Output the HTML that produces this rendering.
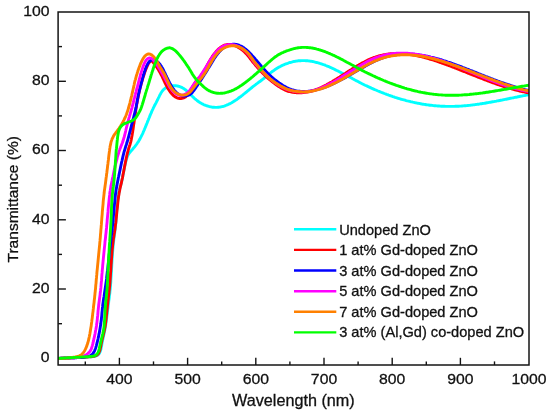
<!DOCTYPE html>
<html><head><meta charset="utf-8"><title>Transmittance</title>
<style>
html,body{margin:0;padding:0;background:#fff;}
svg{display:block;}
text{font-family:"Liberation Sans",Arial,sans-serif;fill:#111;stroke:#111;stroke-width:0.3px;}
</style></head>
<body>
<svg width="550" height="411" viewBox="0 0 550 411">
<rect width="550" height="411" fill="#ffffff"/>
<defs><clipPath id="cp"><rect x="58.1" y="12.0" width="470.9" height="353.0"/></clipPath></defs>
<g stroke="#141414" stroke-width="1.4" fill="none">
<line x1="85.3" y1="365.0" x2="85.3" y2="361.4"/>
<line x1="119.4" y1="365.0" x2="119.4" y2="357.8"/>
<line x1="153.5" y1="365.0" x2="153.5" y2="361.4"/>
<line x1="187.6" y1="365.0" x2="187.6" y2="357.8"/>
<line x1="221.7" y1="365.0" x2="221.7" y2="361.4"/>
<line x1="255.8" y1="365.0" x2="255.8" y2="357.8"/>
<line x1="289.9" y1="365.0" x2="289.9" y2="361.4"/>
<line x1="324.0" y1="365.0" x2="324.0" y2="357.8"/>
<line x1="358.1" y1="365.0" x2="358.1" y2="361.4"/>
<line x1="392.2" y1="365.0" x2="392.2" y2="357.8"/>
<line x1="426.3" y1="365.0" x2="426.3" y2="361.4"/>
<line x1="460.4" y1="365.0" x2="460.4" y2="357.8"/>
<line x1="494.5" y1="365.0" x2="494.5" y2="361.4"/>
<line x1="58.1" y1="358.3" x2="65.9" y2="358.3"/>
<line x1="58.1" y1="323.7" x2="62.0" y2="323.7"/>
<line x1="58.1" y1="289.0" x2="65.9" y2="289.0"/>
<line x1="58.1" y1="254.4" x2="62.0" y2="254.4"/>
<line x1="58.1" y1="219.8" x2="65.9" y2="219.8"/>
<line x1="58.1" y1="185.2" x2="62.0" y2="185.2"/>
<line x1="58.1" y1="150.5" x2="65.9" y2="150.5"/>
<line x1="58.1" y1="115.9" x2="62.0" y2="115.9"/>
<line x1="58.1" y1="81.3" x2="65.9" y2="81.3"/>
<line x1="58.1" y1="46.6" x2="62.0" y2="46.6"/>
</g>
<g fill="none" stroke-width="2.9" stroke-linejoin="round" stroke-linecap="butt" clip-path="url(#cp)">
<path d="M58.0,358.5 L59.2,358.4 L60.3,358.4 L61.5,358.3 L62.6,358.3 L63.8,358.2 L64.9,358.2 L66.1,358.1 L67.2,358.1 L68.4,358.0 L69.5,357.9 L70.6,357.9 L71.7,357.8 L72.9,357.8 L74.0,357.7 L75.1,357.6 L76.1,357.6 L77.2,357.5 L78.3,357.5 L79.3,357.4 L80.3,357.3 L81.4,357.3 L82.4,357.2 L83.3,357.2 L84.3,357.1 L85.2,357.1 L86.2,357.0 L87.1,357.0 L87.9,356.9 L88.8,356.9 L89.6,356.9 L90.4,356.8 L91.2,356.8 L92.0,356.7 L92.7,356.6 L93.4,356.5 L94.1,356.4 L94.7,356.3 L95.3,356.1 L95.9,356.0 L96.5,355.7 L97.0,355.5 L97.5,355.2 L98.0,354.9 L98.4,354.5 L98.8,354.1 L99.2,353.6 L99.5,353.1 L99.8,352.5 L100.1,351.8 L100.3,351.2 L100.6,350.4 L100.8,349.7 L101.0,348.9 L101.1,348.0 L101.3,347.1 L101.5,346.2 L101.7,345.3 L101.8,344.3 L102.0,343.3 L102.2,342.3 L102.4,341.3 L102.6,340.2 L102.9,339.1 L103.1,338.0 L103.3,336.9 L103.6,335.8 L103.8,334.7 L104.1,333.6 L104.3,332.5 L104.5,331.4 L104.8,330.2 L105.0,329.1 L105.2,328.0 L105.4,326.9 L105.6,325.8 L105.7,324.7 L105.9,323.6 L106.1,322.5 L106.2,321.3 L106.4,320.2 L106.5,319.1 L106.7,317.9 L106.8,316.8 L107.0,315.6 L107.1,314.4 L107.3,313.2 L107.4,312.0 L107.6,310.7 L107.7,309.5 L107.9,308.2 L108.1,306.9 L108.2,305.6 L108.4,304.2 L108.6,302.8 L108.7,301.5 L108.9,300.1 L109.1,298.7 L109.3,297.3 L109.4,295.9 L109.6,294.5 L109.8,293.2 L109.9,291.9 L110.0,290.6 L110.2,289.3 L110.3,288.1 L110.4,286.9 L110.5,285.7 L110.6,284.4 L110.7,283.2 L110.8,282.0 L110.8,280.7 L110.9,279.4 L111.0,278.0 L111.1,276.5 L111.2,275.0 L111.3,273.4 L111.4,271.7 L111.4,270.0 L111.6,268.2 L111.7,266.3 L111.8,264.4 L111.9,262.5 L112.0,260.6 L112.1,258.7 L112.3,256.7 L112.4,254.8 L112.5,252.9 L112.7,251.0 L112.8,249.2 L113.0,247.4 L113.1,245.7 L113.3,244.0 L113.5,242.4 L113.7,240.9 L113.8,239.4 L114.0,238.0 L114.2,236.6 L114.4,235.1 L114.6,233.7 L114.8,232.3 L114.9,230.9 L115.1,229.4 L115.3,227.8 L115.5,226.3 L115.6,224.6 L115.8,222.9 L116.0,221.1 L116.1,219.2 L116.3,217.3 L116.4,215.4 L116.6,213.5 L116.7,211.5 L116.9,209.6 L117.1,207.6 L117.2,205.7 L117.4,203.8 L117.6,202.0 L117.8,200.2 L118.0,198.5 L118.2,196.8 L118.5,195.3 L118.7,193.8 L119.0,192.4 L119.2,191.1 L119.5,189.9 L119.8,188.7 L120.1,187.5 L120.4,186.3 L120.8,185.1 L121.1,183.8 L121.4,182.6 L121.7,181.2 L122.1,179.8 L122.4,178.2 L122.7,176.6 L123.0,175.0 L123.4,173.3 L123.7,171.5 L124.0,169.8 L124.4,168.1 L124.7,166.4 L125.1,164.7 L125.5,163.1 L125.8,161.5 L126.2,160.1 L126.6,158.7 L127.0,157.5 L127.4,156.4 L127.9,155.4 L128.3,154.6 L128.8,153.9 L129.2,153.2 L129.7,152.6 L130.2,152.0 L130.7,151.4 L131.2,150.8 L131.7,150.2 L132.2,149.7 L132.7,149.1 L133.2,148.5 L133.7,147.8 L134.3,147.2 L134.8,146.6 L135.3,145.9 L135.9,145.2 L136.4,144.5 L136.9,143.8 L137.4,143.0 L138.0,142.2 L138.5,141.4 L139.0,140.6 L139.5,139.7 L140.0,138.8 L140.5,137.8 L141.0,136.9 L141.5,135.9 L142.0,134.9 L142.5,133.9 L143.0,132.8 L143.4,131.7 L143.9,130.7 L144.4,129.6 L144.8,128.5 L145.3,127.4 L145.7,126.3 L146.2,125.2 L146.6,124.1 L147.1,123.0 L147.5,121.8 L148.0,120.7 L148.4,119.7 L148.8,118.6 L149.3,117.5 L149.7,116.4 L150.1,115.4 L150.5,114.4 L151.0,113.4 L151.4,112.4 L151.8,111.4 L152.2,110.5 L152.6,109.6 L153.0,108.8 L153.4,107.9 L153.8,107.1 L154.2,106.3 L154.6,105.5 L155.0,104.8 L155.4,104.0 L155.8,103.3 L156.2,102.6 L156.5,101.9 L156.9,101.2 L157.2,100.5 L157.6,99.8 L157.9,99.2 L158.2,98.5 L158.5,97.8 L158.9,97.2 L159.2,96.5 L159.5,95.8 L159.8,95.2 L160.1,94.6 L160.5,94.0 L160.8,93.4 L161.1,92.8 L161.5,92.2 L161.9,91.6 L162.2,91.1 L162.6,90.6 L163.1,90.1 L163.5,89.6 L164.0,89.2 L164.5,88.8 L165.0,88.4 L165.5,88.0 L166.1,87.7 L166.7,87.4 L167.3,87.1 L167.9,86.9 L168.5,86.6 L169.2,86.4 L169.9,86.3 L170.5,86.1 L171.2,86.0 L171.9,85.9 L172.6,85.8 L173.3,85.8 L174.0,85.7 L174.7,85.7 L175.3,85.8 L176.0,85.8 L176.7,85.9 L177.4,86.0 L178.1,86.2 L178.8,86.3 L179.5,86.5 L180.1,86.8 L180.8,87.0 L181.5,87.3 L182.2,87.6 L182.8,88.0 L183.5,88.4 L184.2,88.8 L184.8,89.3 L185.4,89.8 L186.1,90.3 L186.7,90.8 L187.4,91.4 L188.0,92.0 L188.6,92.6 L189.2,93.2 L189.9,93.8 L190.5,94.5 L191.1,95.1 L191.8,95.8 L192.4,96.4 L193.1,97.0 L193.7,97.6 L194.4,98.3 L195.0,98.8 L195.7,99.4 L196.4,100.0 L197.0,100.5 L197.7,101.0 L198.4,101.5 L199.1,102.0 L199.9,102.5 L200.6,102.9 L201.3,103.3 L202.0,103.7 L202.8,104.1 L203.5,104.5 L204.2,104.8 L205.0,105.1 L205.7,105.4 L206.5,105.7 L207.2,106.0 L208.0,106.2 L208.8,106.4 L209.5,106.6 L210.3,106.8 L211.1,106.9 L211.8,107.1 L212.6,107.2 L213.4,107.3 L214.1,107.3 L214.9,107.4 L215.7,107.4 L216.5,107.4 L217.3,107.4 L218.0,107.3 L218.8,107.2 L219.6,107.1 L220.3,107.0 L221.1,106.9 L221.9,106.7 L222.7,106.5 L223.4,106.3 L224.2,106.1 L224.9,105.8 L225.7,105.5 L226.5,105.2 L227.2,104.9 L228.0,104.6 L228.7,104.2 L229.5,103.9 L230.2,103.5 L231.0,103.1 L231.7,102.7 L232.5,102.2 L233.2,101.8 L233.9,101.3 L234.7,100.9 L235.4,100.4 L236.1,99.9 L236.9,99.4 L237.6,98.9 L238.3,98.3 L239.0,97.8 L239.7,97.3 L240.5,96.7 L241.2,96.2 L241.9,95.6 L242.6,95.1 L243.3,94.5 L244.0,93.9 L244.7,93.4 L245.4,92.8 L246.1,92.2 L246.8,91.7 L247.5,91.1 L248.2,90.5 L248.9,90.0 L249.6,89.4 L250.2,88.9 L250.9,88.3 L251.6,87.8 L252.3,87.2 L252.9,86.7 L253.6,86.1 L254.3,85.6 L254.9,85.1 L255.6,84.6 L256.2,84.1 L256.9,83.6 L257.6,83.1 L258.2,82.6 L258.9,82.2 L259.5,81.7 L260.2,81.2 L260.9,80.7 L261.5,80.2 L262.2,79.7 L262.9,79.1 L263.6,78.6 L264.2,78.0 L264.9,77.5 L265.6,76.9 L266.4,76.3 L267.1,75.7 L267.8,75.1 L268.5,74.5 L269.3,73.9 L270.0,73.3 L270.8,72.7 L271.5,72.1 L272.3,71.5 L273.1,70.9 L273.9,70.4 L274.7,69.8 L275.5,69.3 L276.3,68.8 L277.1,68.3 L277.9,67.8 L278.7,67.3 L279.5,66.9 L280.3,66.5 L281.1,66.0 L281.9,65.6 L282.8,65.2 L283.6,64.9 L284.4,64.5 L285.2,64.2 L286.0,63.9 L286.8,63.6 L287.7,63.3 L288.5,63.0 L289.3,62.7 L290.1,62.5 L290.9,62.3 L291.7,62.1 L292.4,61.9 L293.2,61.7 L294.0,61.5 L294.8,61.4 L295.5,61.2 L296.3,61.1 L297.1,61.0 L297.8,60.9 L298.5,60.8 L299.3,60.8 L300.0,60.7 L300.7,60.7 L301.4,60.6 L302.1,60.6 L302.8,60.6 L303.5,60.6 L304.2,60.6 L305.0,60.6 L305.8,60.7 L306.6,60.7 L307.4,60.8 L308.3,60.9 L309.1,61.0 L310.0,61.1 L310.8,61.2 L311.7,61.4 L312.5,61.5 L313.4,61.7 L314.2,61.9 L315.0,62.1 L315.8,62.3 L316.6,62.5 L317.4,62.7 L318.2,62.9 L319.0,63.1 L319.8,63.4 L320.6,63.6 L321.3,63.9 L322.1,64.1 L322.8,64.4 L323.6,64.7 L324.4,64.9 L325.1,65.2 L325.8,65.5 L326.6,65.8 L327.3,66.1 L328.1,66.4 L328.8,66.7 L329.5,67.0 L330.3,67.4 L331.0,67.7 L331.7,68.0 L332.5,68.4 L333.2,68.7 L333.9,69.0 L334.7,69.4 L335.4,69.8 L336.1,70.1 L336.9,70.5 L337.6,70.8 L338.4,71.2 L339.1,71.6 L339.9,72.0 L340.6,72.4 L341.4,72.8 L342.2,73.2 L343.0,73.6 L343.8,74.0 L344.6,74.4 L345.4,74.9 L346.3,75.3 L347.1,75.8 L348.0,76.2 L348.8,76.7 L349.7,77.2 L350.6,77.6 L351.5,78.1 L352.3,78.6 L353.2,79.0 L354.1,79.5 L354.9,80.0 L355.8,80.4 L356.7,80.9 L357.5,81.3 L358.4,81.8 L359.3,82.3 L360.2,82.7 L361.2,83.2 L362.1,83.7 L363.1,84.2 L364.1,84.7 L365.1,85.2 L366.2,85.7 L367.2,86.1 L368.2,86.6 L369.3,87.1 L370.4,87.6 L371.4,88.1 L372.5,88.6 L373.6,89.1 L374.7,89.6 L375.8,90.0 L376.9,90.5 L378.0,91.0 L379.1,91.4 L380.1,91.8 L381.2,92.3 L382.3,92.7 L383.4,93.1 L384.4,93.5 L385.5,93.9 L386.5,94.3 L387.6,94.7 L388.6,95.1 L389.7,95.5 L390.7,95.8 L391.8,96.2 L392.8,96.6 L393.9,96.9 L395.0,97.3 L396.0,97.6 L397.1,98.0 L398.2,98.3 L399.3,98.6 L400.4,99.0 L401.5,99.3 L402.7,99.6 L403.8,99.9 L405.0,100.2 L406.1,100.6 L407.3,100.9 L408.5,101.1 L409.6,101.4 L410.7,101.7 L411.8,101.9 L412.8,102.2 L413.8,102.4 L414.7,102.6 L415.5,102.8 L416.3,102.9 L417.0,103.1 L417.8,103.2 L418.5,103.4 L419.3,103.5 L420.2,103.7 L421.1,103.8 L422.0,104.0 L423.1,104.2 L424.1,104.4 L425.2,104.5 L426.3,104.7 L427.5,104.9 L428.7,105.0 L429.8,105.2 L431.0,105.3 L432.2,105.4 L433.3,105.6 L434.4,105.7 L435.6,105.8 L436.7,105.9 L437.8,106.0 L439.0,106.0 L440.1,106.1 L441.2,106.2 L442.3,106.2 L443.4,106.3 L444.5,106.3 L445.6,106.4 L446.7,106.4 L447.7,106.4 L448.8,106.4 L449.9,106.4 L451.0,106.4 L452.1,106.4 L453.2,106.4 L454.3,106.4 L455.4,106.3 L456.5,106.3 L457.6,106.3 L458.7,106.2 L459.9,106.1 L461.0,106.1 L462.1,106.0 L463.3,105.9 L464.4,105.8 L465.6,105.7 L466.7,105.6 L467.9,105.5 L469.0,105.4 L470.1,105.3 L471.2,105.1 L472.2,105.0 L473.2,104.9 L474.2,104.8 L475.1,104.6 L476.0,104.5 L476.8,104.4 L477.6,104.3 L478.4,104.2 L479.2,104.1 L480.1,103.9 L480.9,103.8 L481.9,103.7 L482.8,103.5 L483.8,103.4 L484.9,103.2 L485.9,103.0 L487.0,102.8 L488.1,102.6 L489.2,102.4 L490.4,102.2 L491.5,102.0 L492.7,101.8 L493.9,101.6 L495.0,101.4 L496.2,101.2 L497.4,100.9 L498.5,100.7 L499.7,100.5 L500.8,100.3 L501.9,100.1 L503.0,99.8 L504.1,99.6 L505.1,99.4 L506.2,99.2 L507.2,99.0 L508.3,98.8 L509.3,98.5 L510.4,98.3 L511.5,98.1 L512.6,97.9 L513.7,97.7 L514.8,97.4 L516.0,97.2 L517.1,97.0 L518.3,96.7 L519.4,96.5 L520.5,96.3 L521.6,96.1 L522.7,95.8 L523.7,95.6 L524.7,95.5 L525.6,95.3 L526.4,95.1 L527.2,95.0 L527.9,94.8 L528.5,94.7 L529.0,94.6" stroke="#00ffff"/>
<path d="M58.0,358.5 L59.3,358.4 L60.5,358.4 L61.8,358.3 L63.1,358.3 L64.3,358.2 L65.6,358.1 L66.8,358.1 L68.1,358.0 L69.3,358.0 L70.6,357.9 L71.8,357.8 L73.0,357.8 L74.2,357.7 L75.4,357.6 L76.6,357.6 L77.8,357.5 L78.9,357.4 L80.1,357.4 L81.2,357.3 L82.3,357.2 L83.3,357.2 L84.4,357.1 L85.4,357.1 L86.4,357.0 L87.3,357.0 L88.3,356.9 L89.2,356.8 L90.1,356.8 L90.9,356.7 L91.7,356.6 L92.5,356.5 L93.2,356.4 L93.9,356.3 L94.6,356.1 L95.2,355.9 L95.8,355.7 L96.4,355.4 L96.9,355.1 L97.4,354.7 L97.8,354.3 L98.2,353.8 L98.6,353.3 L98.9,352.7 L99.2,352.0 L99.5,351.3 L99.8,350.5 L100.0,349.7 L100.2,348.8 L100.4,347.9 L100.6,346.9 L100.8,345.9 L101.0,344.9 L101.2,343.8 L101.4,342.7 L101.7,341.6 L101.9,340.4 L102.2,339.2 L102.5,338.0 L102.8,336.8 L103.1,335.6 L103.4,334.4 L103.7,333.2 L104.0,332.0 L104.3,330.7 L104.5,329.5 L104.7,328.3 L105.0,327.1 L105.2,325.9 L105.4,324.7 L105.5,323.4 L105.7,322.2 L105.9,321.0 L106.0,319.7 L106.2,318.5 L106.3,317.2 L106.4,315.9 L106.6,314.6 L106.7,313.3 L106.8,312.0 L107.0,310.6 L107.1,309.2 L107.3,307.8 L107.4,306.4 L107.6,304.9 L107.7,303.4 L107.9,301.9 L108.1,300.4 L108.3,298.9 L108.4,297.4 L108.6,295.8 L108.8,294.3 L109.0,292.9 L109.1,291.4 L109.3,290.0 L109.4,288.7 L109.5,287.3 L109.7,286.0 L109.8,284.7 L109.9,283.3 L110.0,282.0 L110.1,280.6 L110.2,279.1 L110.3,277.6 L110.4,276.0 L110.5,274.3 L110.6,272.5 L110.8,270.6 L110.9,268.6 L111.0,266.6 L111.1,264.6 L111.3,262.5 L111.4,260.3 L111.6,258.2 L111.7,256.1 L111.9,254.0 L112.0,251.9 L112.2,249.9 L112.4,247.9 L112.6,246.0 L112.8,244.2 L113.0,242.5 L113.2,240.8 L113.4,239.2 L113.7,237.6 L113.9,236.1 L114.1,234.5 L114.4,233.0 L114.6,231.4 L114.9,229.8 L115.1,228.1 L115.3,226.4 L115.5,224.6 L115.8,222.7 L116.0,220.7 L116.2,218.7 L116.4,216.6 L116.6,214.5 L116.8,212.3 L117.0,210.2 L117.3,208.1 L117.5,205.9 L117.7,203.9 L117.9,201.9 L118.1,199.9 L118.4,198.1 L118.6,196.3 L118.9,194.7 L119.1,193.1 L119.4,191.7 L119.7,190.3 L119.9,189.0 L120.2,187.7 L120.5,186.4 L120.8,185.1 L121.2,183.7 L121.5,182.2 L121.8,180.7 L122.2,179.0 L122.6,177.2 L122.9,175.3 L123.3,173.3 L123.7,171.3 L124.1,169.2 L124.5,167.1 L124.9,165.0 L125.3,163.0 L125.7,160.9 L126.1,158.9 L126.5,157.1 L126.9,155.3 L127.3,153.6 L127.7,152.1 L128.1,150.7 L128.4,149.5 L128.8,148.3 L129.1,147.3 L129.4,146.3 L129.8,145.3 L130.1,144.3 L130.4,143.2 L130.7,142.1 L131.0,140.8 L131.3,139.5 L131.5,138.2 L131.8,136.7 L132.1,135.3 L132.3,133.8 L132.6,132.2 L132.8,130.6 L133.1,129.1 L133.3,127.5 L133.5,125.9 L133.7,124.4 L134.0,122.9 L134.2,121.3 L134.4,119.8 L134.6,118.3 L134.8,116.9 L135.0,115.4 L135.3,113.9 L135.5,112.5 L135.7,111.0 L135.9,109.6 L136.1,108.2 L136.4,106.8 L136.6,105.4 L136.8,104.0 L137.1,102.6 L137.3,101.2 L137.6,99.8 L137.8,98.5 L138.1,97.1 L138.4,95.7 L138.7,94.4 L139.0,93.0 L139.3,91.7 L139.6,90.3 L139.9,89.0 L140.2,87.7 L140.6,86.3 L140.9,85.1 L141.2,83.8 L141.6,82.5 L141.9,81.3 L142.3,80.0 L142.7,78.8 L143.0,77.6 L143.4,76.5 L143.8,75.4 L144.1,74.3 L144.5,73.2 L144.8,72.2 L145.2,71.1 L145.6,70.2 L145.9,69.2 L146.3,68.3 L146.6,67.5 L147.0,66.7 L147.3,65.9 L147.7,65.2 L148.0,64.5 L148.3,63.8 L148.7,63.2 L149.1,62.6 L149.5,62.1 L150.0,61.6 L150.4,61.2 L150.9,60.9 L151.4,60.8 L151.8,60.9 L152.2,61.2 L152.6,61.6 L152.9,62.1 L153.3,62.6 L153.8,63.2 L154.2,63.7 L154.6,64.3 L155.1,65.0 L155.6,65.6 L156.1,66.3 L156.6,67.0 L157.1,67.8 L157.6,68.6 L158.2,69.4 L158.7,70.3 L159.2,71.2 L159.8,72.1 L160.3,73.1 L160.8,74.1 L161.4,75.2 L161.9,76.2 L162.4,77.2 L162.9,78.3 L163.4,79.3 L163.8,80.3 L164.3,81.2 L164.7,82.2 L165.1,83.1 L165.5,83.9 L166.0,84.8 L166.4,85.6 L166.8,86.4 L167.2,87.2 L167.6,88.0 L168.1,88.8 L168.6,89.5 L169.1,90.3 L169.6,91.0 L170.1,91.8 L170.7,92.5 L171.3,93.2 L171.9,93.9 L172.6,94.6 L173.2,95.3 L173.9,95.9 L174.7,96.5 L175.4,97.0 L176.2,97.4 L177.0,97.8 L177.8,98.1 L178.6,98.4 L179.4,98.5 L180.3,98.6 L181.1,98.5 L182.0,98.4 L182.8,98.2 L183.6,97.9 L184.3,97.6 L185.0,97.2 L185.7,96.7 L186.3,96.3 L186.9,95.7 L187.4,95.1 L188.0,94.5 L188.5,93.8 L189.0,93.0 L189.5,92.2 L190.0,91.4 L190.5,90.5 L191.1,89.5 L191.7,88.5 L192.3,87.4 L192.9,86.3 L193.6,85.1 L194.3,84.0 L194.9,82.9 L195.6,81.8 L196.3,80.9 L196.9,80.0 L197.5,79.2 L198.1,78.7 L198.6,78.2 L199.1,77.8 L199.6,77.4 L200.2,76.9 L200.7,76.2 L201.3,75.4 L202.0,74.5 L202.6,73.5 L203.3,72.4 L203.9,71.2 L204.6,70.0 L205.3,68.8 L205.9,67.7 L206.5,66.5 L207.2,65.4 L207.8,64.2 L208.4,63.1 L209.0,62.1 L209.6,61.0 L210.2,60.0 L210.8,59.0 L211.4,58.0 L212.0,57.1 L212.6,56.1 L213.3,55.2 L213.9,54.3 L214.6,53.4 L215.3,52.6 L215.9,51.8 L216.6,51.0 L217.3,50.3 L218.0,49.6 L218.7,48.9 L219.4,48.3 L220.2,47.7 L220.9,47.2 L221.6,46.7 L222.3,46.3 L223.0,45.9 L223.8,45.5 L224.5,45.2 L225.2,45.0 L226.0,44.8 L226.7,44.6 L227.4,44.5 L228.2,44.4 L228.9,44.4 L229.7,44.4 L230.5,44.5 L231.2,44.6 L232.0,44.8 L232.8,44.9 L233.6,45.2 L234.4,45.5 L235.2,45.8 L236.0,46.1 L236.8,46.5 L237.6,46.9 L238.4,47.4 L239.3,47.9 L240.1,48.4 L240.9,49.0 L241.7,49.6 L242.4,50.2 L243.2,50.8 L244.0,51.5 L244.7,52.2 L245.4,52.9 L246.1,53.6 L246.8,54.3 L247.4,55.1 L248.0,55.8 L248.7,56.6 L249.3,57.4 L249.9,58.2 L250.5,59.1 L251.2,59.9 L251.9,60.7 L252.5,61.6 L253.2,62.5 L254.0,63.3 L254.7,64.2 L255.4,65.1 L256.2,65.9 L256.9,66.8 L257.7,67.7 L258.5,68.6 L259.3,69.4 L260.0,70.3 L260.8,71.2 L261.6,72.0 L262.5,72.9 L263.3,73.7 L264.1,74.5 L264.9,75.3 L265.7,76.1 L266.6,76.9 L267.4,77.6 L268.2,78.4 L269.0,79.1 L269.9,79.8 L270.7,80.5 L271.5,81.2 L272.3,81.8 L273.1,82.4 L274.0,83.1 L274.8,83.7 L275.7,84.3 L276.5,85.0 L277.4,85.6 L278.3,86.2 L279.3,86.8 L280.2,87.4 L281.1,88.0 L282.0,88.5 L283.0,89.0 L283.9,89.5 L284.8,89.9 L285.7,90.3 L286.5,90.7 L287.4,91.0 L288.3,91.3 L289.1,91.5 L289.9,91.7 L290.8,91.9 L291.6,92.1 L292.4,92.2 L293.3,92.4 L294.1,92.5 L294.9,92.6 L295.8,92.6 L296.6,92.7 L297.4,92.7 L298.3,92.7 L299.2,92.8 L300.1,92.8 L301.0,92.7 L301.9,92.7 L302.8,92.6 L303.8,92.5 L304.7,92.4 L305.7,92.3 L306.6,92.1 L307.6,92.0 L308.6,91.8 L309.6,91.5 L310.6,91.3 L311.5,91.0 L312.5,90.8 L313.5,90.5 L314.4,90.1 L315.4,89.8 L316.3,89.5 L317.2,89.1 L318.1,88.8 L319.0,88.4 L319.9,88.0 L320.7,87.6 L321.6,87.3 L322.4,86.9 L323.1,86.5 L323.9,86.1 L324.7,85.7 L325.4,85.4 L326.2,85.0 L326.9,84.6 L327.7,84.1 L328.4,83.7 L329.2,83.3 L330.0,82.8 L330.8,82.4 L331.7,81.9 L332.5,81.4 L333.4,80.8 L334.3,80.3 L335.2,79.7 L336.1,79.2 L337.1,78.6 L338.0,78.0 L338.9,77.4 L339.8,76.9 L340.7,76.3 L341.6,75.7 L342.5,75.1 L343.5,74.5 L344.4,73.9 L345.3,73.4 L346.2,72.8 L347.0,72.2 L347.9,71.6 L348.8,71.1 L349.7,70.5 L350.6,69.9 L351.5,69.4 L352.4,68.8 L353.3,68.2 L354.2,67.7 L355.1,67.1 L356.0,66.6 L356.9,66.0 L357.8,65.5 L358.7,65.0 L359.6,64.4 L360.5,63.9 L361.4,63.4 L362.4,62.9 L363.3,62.4 L364.2,62.0 L365.1,61.5 L366.0,61.0 L366.9,60.6 L367.8,60.1 L368.7,59.7 L369.6,59.3 L370.5,58.9 L371.4,58.5 L372.3,58.2 L373.2,57.8 L374.1,57.5 L375.1,57.2 L376.0,56.9 L376.9,56.6 L377.8,56.3 L378.7,56.0 L379.6,55.8 L380.5,55.5 L381.4,55.3 L382.3,55.1 L383.2,54.9 L384.1,54.7 L385.0,54.6 L385.9,54.4 L386.8,54.3 L387.6,54.1 L388.5,54.0 L389.4,53.9 L390.3,53.8 L391.2,53.8 L392.1,53.7 L393.0,53.6 L393.9,53.6 L394.7,53.5 L395.6,53.5 L396.5,53.5 L397.4,53.5 L398.3,53.5 L399.1,53.5 L400.0,53.5 L400.9,53.6 L401.8,53.6 L402.7,53.7 L403.7,53.7 L404.6,53.8 L405.5,53.9 L406.4,54.0 L407.4,54.1 L408.3,54.2 L409.3,54.3 L410.3,54.5 L411.2,54.6 L412.2,54.8 L413.2,55.0 L414.2,55.1 L415.3,55.3 L416.3,55.5 L417.3,55.8 L418.3,56.0 L419.4,56.2 L420.4,56.5 L421.4,56.7 L422.5,57.0 L423.5,57.2 L424.5,57.5 L425.6,57.8 L426.6,58.1 L427.6,58.4 L428.6,58.7 L429.6,59.0 L430.6,59.3 L431.6,59.6 L432.7,59.9 L433.7,60.2 L434.7,60.6 L435.7,60.9 L436.7,61.2 L437.7,61.6 L438.7,61.9 L439.7,62.3 L440.7,62.6 L441.7,63.0 L442.7,63.3 L443.7,63.7 L444.7,64.1 L445.7,64.4 L446.8,64.8 L447.8,65.2 L448.9,65.6 L450.0,66.0 L451.1,66.5 L452.2,66.9 L453.4,67.3 L454.5,67.8 L455.7,68.2 L456.9,68.7 L458.1,69.2 L459.3,69.6 L460.5,70.1 L461.7,70.6 L462.9,71.1 L464.1,71.5 L465.3,72.0 L466.4,72.5 L467.6,73.0 L468.8,73.4 L469.9,73.9 L471.0,74.3 L472.1,74.8 L473.2,75.2 L474.3,75.6 L475.4,76.0 L476.4,76.5 L477.5,76.9 L478.5,77.3 L479.6,77.7 L480.6,78.1 L481.7,78.5 L482.8,78.9 L483.9,79.4 L485.0,79.8 L486.1,80.2 L487.2,80.6 L488.4,81.1 L489.5,81.5 L490.7,81.9 L491.8,82.4 L493.0,82.8 L494.2,83.2 L495.4,83.6 L496.6,84.1 L497.8,84.5 L499.0,84.9 L500.2,85.3 L501.4,85.7 L502.6,86.1 L503.8,86.5 L505.0,86.9 L506.3,87.3 L507.5,87.6 L508.7,88.0 L510.0,88.4 L511.2,88.7 L512.4,89.1 L513.6,89.4 L514.9,89.8 L516.1,90.1 L517.3,90.4 L518.5,90.7 L519.6,91.0 L520.8,91.2 L521.9,91.5 L523.0,91.7 L524.0,91.9 L525.0,92.2 L525.9,92.3 L526.8,92.5 L527.6,92.7 L528.3,92.8 L529.0,92.9" stroke="#ff0000"/>
<path d="M58.0,358.5 L59.3,358.4 L60.5,358.3 L61.8,358.2 L63.1,358.1 L64.3,358.0 L65.6,358.0 L66.8,357.9 L68.0,357.9 L69.3,357.8 L70.5,357.8 L71.7,357.8 L72.8,357.8 L74.0,357.7 L75.2,357.7 L76.3,357.7 L77.4,357.6 L78.5,357.6 L79.6,357.5 L80.7,357.5 L81.7,357.4 L82.7,357.3 L83.7,357.2 L84.7,357.1 L85.6,356.9 L86.5,356.7 L87.4,356.5 L88.2,356.3 L89.0,356.1 L89.8,355.8 L90.5,355.5 L91.2,355.1 L91.8,354.6 L92.4,354.1 L93.0,353.5 L93.4,352.9 L93.9,352.2 L94.3,351.4 L94.7,350.6 L95.0,349.8 L95.4,348.8 L95.7,347.9 L96.0,346.8 L96.3,345.8 L96.6,344.7 L96.9,343.6 L97.2,342.5 L97.4,341.4 L97.7,340.3 L98.0,339.1 L98.2,338.0 L98.5,336.9 L98.7,335.7 L98.9,334.6 L99.2,333.4 L99.4,332.2 L99.6,331.1 L99.8,329.9 L100.0,328.7 L100.2,327.5 L100.4,326.3 L100.6,325.1 L100.8,323.8 L100.9,322.6 L101.1,321.3 L101.3,320.1 L101.4,318.8 L101.5,317.6 L101.7,316.3 L101.8,315.0 L101.9,313.7 L102.0,312.3 L102.2,311.0 L102.3,309.6 L102.4,308.3 L102.6,306.9 L102.7,305.5 L102.9,304.0 L103.1,302.6 L103.3,301.2 L103.5,299.7 L103.7,298.2 L104.0,296.8 L104.2,295.4 L104.4,293.9 L104.6,292.5 L104.8,291.1 L105.0,289.7 L105.2,288.4 L105.4,287.0 L105.6,285.7 L105.8,284.3 L106.0,283.0 L106.2,281.6 L106.4,280.1 L106.6,278.7 L106.7,277.1 L106.9,275.5 L107.1,273.8 L107.3,272.0 L107.6,270.2 L107.8,268.3 L108.0,266.3 L108.2,264.3 L108.4,262.3 L108.6,260.3 L108.9,258.2 L109.1,256.2 L109.3,254.2 L109.5,252.2 L109.7,250.2 L109.9,248.3 L110.2,246.4 L110.4,244.6 L110.6,242.8 L110.8,241.2 L111.0,239.5 L111.1,237.9 L111.3,236.3 L111.5,234.8 L111.7,233.2 L111.9,231.6 L112.1,230.0 L112.2,228.3 L112.4,226.6 L112.6,224.8 L112.8,223.0 L113.0,221.1 L113.1,219.2 L113.3,217.2 L113.5,215.1 L113.7,213.1 L113.8,211.0 L114.0,209.0 L114.2,207.0 L114.4,205.0 L114.6,203.0 L114.8,201.1 L114.9,199.2 L115.1,197.5 L115.3,195.8 L115.5,194.2 L115.7,192.6 L115.9,191.2 L116.1,189.8 L116.4,188.4 L116.6,187.0 L116.9,185.7 L117.1,184.3 L117.4,182.8 L117.7,181.3 L118.0,179.7 L118.3,178.0 L118.7,176.3 L119.1,174.4 L119.5,172.5 L119.9,170.6 L120.3,168.6 L120.7,166.6 L121.1,164.7 L121.5,162.7 L122.0,160.8 L122.4,158.9 L122.8,157.1 L123.2,155.4 L123.6,153.8 L124.0,152.2 L124.4,150.8 L124.8,149.5 L125.2,148.3 L125.5,147.2 L125.8,146.1 L126.2,145.0 L126.5,144.0 L126.8,142.9 L127.2,141.9 L127.5,140.8 L127.8,139.7 L128.1,138.6 L128.4,137.5 L128.7,136.4 L129.0,135.2 L129.3,134.0 L129.6,132.9 L129.9,131.7 L130.2,130.5 L130.5,129.4 L130.8,128.2 L131.1,127.0 L131.4,125.8 L131.7,124.6 L132.0,123.5 L132.3,122.3 L132.6,121.2 L132.9,120.0 L133.2,118.9 L133.5,117.8 L133.8,116.6 L134.1,115.5 L134.4,114.3 L134.7,113.1 L135.0,111.9 L135.3,110.6 L135.6,109.3 L135.9,107.9 L136.2,106.5 L136.4,105.1 L136.7,103.7 L137.0,102.3 L137.2,100.9 L137.5,99.4 L137.8,98.0 L138.0,96.6 L138.3,95.3 L138.6,94.0 L138.9,92.7 L139.2,91.4 L139.5,90.2 L139.8,89.0 L140.1,87.8 L140.4,86.6 L140.7,85.4 L141.0,84.2 L141.3,83.0 L141.7,81.8 L142.0,80.6 L142.3,79.3 L142.6,78.1 L143.0,76.9 L143.3,75.7 L143.7,74.5 L144.0,73.3 L144.4,72.1 L144.8,71.0 L145.1,69.9 L145.5,68.8 L145.9,67.8 L146.3,66.8 L146.7,65.8 L147.2,65.0 L147.6,64.1 L148.0,63.3 L148.5,62.6 L149.0,62.0 L149.5,61.4 L150.0,61.0 L150.5,60.6 L151.0,60.2 L151.5,60.0 L152.1,59.9 L152.7,59.8 L153.2,59.8 L153.8,59.9 L154.4,60.0 L155.0,60.2 L155.6,60.5 L156.1,60.8 L156.7,61.2 L157.3,61.6 L157.8,62.1 L158.4,62.6 L158.9,63.1 L159.4,63.7 L159.9,64.3 L160.4,64.9 L160.8,65.6 L161.3,66.2 L161.7,66.9 L162.2,67.7 L162.6,68.4 L163.0,69.2 L163.4,70.0 L163.8,70.8 L164.2,71.6 L164.7,72.5 L165.1,73.4 L165.5,74.3 L165.9,75.2 L166.4,76.1 L166.8,77.1 L167.2,78.0 L167.7,79.0 L168.2,80.0 L168.7,81.0 L169.2,82.0 L169.7,83.0 L170.3,84.0 L170.8,85.0 L171.4,86.0 L172.0,87.0 L172.6,87.9 L173.3,88.8 L173.9,89.7 L174.6,90.6 L175.3,91.4 L176.0,92.1 L176.8,92.8 L177.5,93.5 L178.3,94.1 L179.1,94.6 L180.0,95.0 L180.8,95.4 L181.7,95.6 L182.6,95.8 L183.4,96.0 L184.3,96.0 L185.2,96.0 L186.1,95.9 L187.0,95.7 L187.8,95.4 L188.6,95.1 L189.5,94.7 L190.3,94.2 L191.0,93.6 L191.8,93.0 L192.5,92.2 L193.1,91.4 L193.8,90.6 L194.4,89.7 L195.1,88.8 L195.7,87.9 L196.3,87.0 L196.9,86.0 L197.6,85.1 L198.2,84.1 L198.8,83.2 L199.4,82.3 L200.0,81.3 L200.7,80.4 L201.3,79.5 L201.9,78.6 L202.5,77.6 L203.1,76.7 L203.7,75.8 L204.2,74.9 L204.8,74.0 L205.4,73.1 L206.0,72.2 L206.6,71.3 L207.2,70.3 L207.7,69.3 L208.3,68.3 L208.9,67.4 L209.5,66.4 L210.1,65.4 L210.7,64.4 L211.3,63.4 L211.9,62.4 L212.5,61.4 L213.1,60.4 L213.7,59.4 L214.3,58.5 L215.0,57.5 L215.6,56.6 L216.2,55.7 L216.9,54.8 L217.6,53.9 L218.3,53.1 L218.9,52.3 L219.6,51.5 L220.4,50.7 L221.1,50.0 L221.8,49.3 L222.6,48.7 L223.4,48.1 L224.2,47.5 L225.0,47.0 L225.8,46.5 L226.6,46.1 L227.4,45.7 L228.2,45.4 L229.1,45.1 L229.9,44.8 L230.8,44.6 L231.6,44.5 L232.4,44.3 L233.3,44.3 L234.1,44.3 L234.9,44.3 L235.7,44.4 L236.5,44.5 L237.3,44.7 L238.1,44.9 L238.9,45.2 L239.6,45.5 L240.4,45.8 L241.2,46.2 L241.9,46.6 L242.7,47.1 L243.4,47.6 L244.2,48.1 L244.9,48.7 L245.7,49.2 L246.4,49.8 L247.1,50.5 L247.9,51.1 L248.6,51.8 L249.3,52.5 L250.1,53.3 L250.8,54.0 L251.5,54.8 L252.2,55.6 L252.9,56.4 L253.7,57.2 L254.4,58.0 L255.1,58.8 L255.8,59.7 L256.6,60.5 L257.3,61.4 L258.0,62.3 L258.8,63.1 L259.5,64.0 L260.2,64.9 L261.0,65.7 L261.7,66.6 L262.5,67.5 L263.2,68.3 L264.0,69.2 L264.7,70.0 L265.5,70.9 L266.3,71.7 L267.1,72.5 L267.8,73.3 L268.6,74.1 L269.4,74.9 L270.2,75.6 L271.0,76.4 L271.9,77.1 L272.7,77.8 L273.5,78.5 L274.3,79.2 L275.1,79.8 L276.0,80.5 L276.8,81.1 L277.6,81.8 L278.5,82.4 L279.3,83.0 L280.1,83.5 L280.9,84.1 L281.8,84.6 L282.6,85.2 L283.4,85.7 L284.2,86.1 L285.0,86.6 L285.8,87.0 L286.6,87.5 L287.4,87.9 L288.2,88.2 L289.0,88.6 L289.7,88.9 L290.5,89.2 L291.3,89.5 L292.1,89.8 L292.9,90.0 L293.7,90.2 L294.5,90.4 L295.3,90.6 L296.1,90.8 L297.0,91.0 L297.9,91.1 L298.8,91.2 L299.7,91.3 L300.6,91.4 L301.6,91.5 L302.6,91.5 L303.5,91.5 L304.5,91.5 L305.5,91.5 L306.5,91.5 L307.5,91.4 L308.5,91.3 L309.5,91.2 L310.5,91.1 L311.5,90.9 L312.5,90.7 L313.4,90.5 L314.4,90.4 L315.3,90.1 L316.2,89.9 L317.2,89.7 L318.1,89.4 L319.0,89.2 L319.9,88.9 L320.7,88.7 L321.6,88.4 L322.5,88.1 L323.3,87.8 L324.2,87.5 L325.0,87.2 L325.9,86.8 L326.8,86.5 L327.6,86.2 L328.5,85.8 L329.4,85.4 L330.3,85.1 L331.2,84.7 L332.1,84.3 L333.0,83.8 L334.0,83.4 L334.9,82.9 L335.9,82.5 L336.8,82.0 L337.8,81.5 L338.8,81.0 L339.8,80.5 L340.8,80.0 L341.8,79.5 L342.7,78.9 L343.7,78.4 L344.7,77.9 L345.6,77.4 L346.6,76.8 L347.5,76.3 L348.4,75.8 L349.3,75.3 L350.2,74.8 L351.1,74.3 L352.0,73.7 L352.9,73.2 L353.7,72.7 L354.6,72.2 L355.4,71.8 L356.3,71.3 L357.1,70.8 L358.0,70.3 L358.8,69.8 L359.6,69.3 L360.5,68.8 L361.3,68.3 L362.2,67.8 L363.0,67.4 L363.9,66.9 L364.7,66.4 L365.5,65.9 L366.4,65.5 L367.3,65.0 L368.1,64.5 L369.0,64.1 L369.8,63.6 L370.7,63.2 L371.6,62.7 L372.5,62.3 L373.3,61.8 L374.2,61.4 L375.1,61.0 L376.0,60.6 L376.9,60.2 L377.8,59.8 L378.7,59.4 L379.6,59.1 L380.5,58.7 L381.4,58.4 L382.3,58.0 L383.3,57.7 L384.2,57.4 L385.1,57.1 L386.0,56.9 L386.9,56.6 L387.9,56.4 L388.8,56.1 L389.7,55.9 L390.7,55.7 L391.6,55.5 L392.5,55.3 L393.5,55.1 L394.4,55.0 L395.3,54.8 L396.3,54.7 L397.2,54.6 L398.2,54.5 L399.1,54.4 L400.1,54.3 L401.0,54.2 L401.9,54.1 L402.9,54.1 L403.8,54.1 L404.8,54.0 L405.7,54.0 L406.7,54.0 L407.6,54.0 L408.5,54.0 L409.5,54.0 L410.4,54.1 L411.4,54.1 L412.3,54.2 L413.2,54.2 L414.2,54.3 L415.1,54.4 L416.0,54.5 L417.0,54.6 L417.9,54.7 L418.8,54.8 L419.8,55.0 L420.7,55.1 L421.6,55.2 L422.6,55.4 L423.5,55.5 L424.4,55.7 L425.3,55.9 L426.2,56.1 L427.2,56.2 L428.1,56.4 L429.0,56.6 L429.9,56.8 L430.8,57.1 L431.7,57.3 L432.6,57.5 L433.5,57.7 L434.4,58.0 L435.3,58.2 L436.2,58.4 L437.2,58.7 L438.1,58.9 L439.0,59.2 L439.9,59.5 L440.8,59.7 L441.7,60.0 L442.6,60.3 L443.5,60.6 L444.5,60.9 L445.4,61.2 L446.3,61.5 L447.2,61.8 L448.1,62.1 L449.1,62.4 L450.0,62.7 L450.9,63.0 L451.8,63.3 L452.7,63.7 L453.6,64.0 L454.5,64.3 L455.4,64.6 L456.3,65.0 L457.2,65.3 L458.2,65.6 L459.1,66.0 L460.1,66.3 L461.1,66.7 L462.1,67.1 L463.1,67.5 L464.2,67.9 L465.3,68.3 L466.4,68.8 L467.5,69.2 L468.6,69.6 L469.7,70.1 L470.8,70.5 L471.9,70.9 L473.0,71.4 L474.1,71.8 L475.1,72.2 L476.2,72.6 L477.3,73.0 L478.3,73.5 L479.4,73.9 L480.4,74.3 L481.5,74.7 L482.6,75.2 L483.7,75.6 L484.8,76.0 L485.9,76.5 L487.0,76.9 L488.1,77.4 L489.3,77.8 L490.4,78.2 L491.5,78.7 L492.7,79.1 L493.8,79.6 L495.0,80.0 L496.1,80.4 L497.3,80.9 L498.5,81.3 L499.7,81.7 L500.8,82.2 L502.0,82.6 L503.2,83.0 L504.4,83.4 L505.6,83.8 L506.8,84.2 L508.0,84.6 L509.2,85.0 L510.4,85.4 L511.6,85.8 L512.8,86.2 L514.0,86.6 L515.2,87.0 L516.4,87.3 L517.6,87.7 L518.8,88.0 L519.9,88.3 L521.0,88.6 L522.1,88.9 L523.1,89.2 L524.1,89.4 L525.1,89.7 L526.0,89.9 L526.9,90.1 L527.7,90.2 L528.4,90.4 L529.0,90.5" stroke="#0000ff"/>
<path d="M58.0,358.5 L59.4,358.4 L60.8,358.3 L62.1,358.2 L63.4,358.1 L64.7,358.1 L65.9,358.0 L67.1,358.0 L68.2,357.9 L69.3,357.9 L70.4,357.9 L71.4,357.8 L72.4,357.8 L73.4,357.7 L74.4,357.7 L75.3,357.6 L76.3,357.5 L77.1,357.5 L78.0,357.3 L78.9,357.2 L79.7,357.1 L80.5,356.9 L81.3,356.7 L82.1,356.5 L82.9,356.3 L83.7,356.0 L84.5,355.7 L85.2,355.3 L85.9,354.9 L86.6,354.5 L87.3,354.0 L87.9,353.5 L88.5,352.9 L89.1,352.3 L89.7,351.6 L90.2,350.9 L90.7,350.1 L91.1,349.3 L91.5,348.4 L91.8,347.4 L92.1,346.4 L92.4,345.4 L92.7,344.3 L93.0,343.2 L93.2,342.1 L93.5,341.0 L93.7,339.8 L94.0,338.7 L94.2,337.6 L94.5,336.4 L94.7,335.2 L95.0,334.1 L95.2,332.9 L95.4,331.7 L95.6,330.5 L95.9,329.3 L96.1,328.1 L96.3,326.9 L96.5,325.7 L96.6,324.5 L96.8,323.3 L97.0,322.0 L97.1,320.8 L97.3,319.5 L97.4,318.2 L97.5,317.0 L97.7,315.7 L97.8,314.4 L97.9,313.1 L98.0,311.8 L98.1,310.4 L98.3,309.1 L98.4,307.7 L98.6,306.3 L98.7,304.8 L98.9,303.4 L99.1,301.9 L99.3,300.5 L99.5,299.0 L99.7,297.5 L99.9,296.1 L100.1,294.6 L100.2,293.2 L100.4,291.8 L100.6,290.4 L100.7,289.0 L100.9,287.7 L101.0,286.3 L101.1,285.0 L101.2,283.7 L101.3,282.3 L101.5,280.9 L101.6,279.4 L101.7,277.9 L101.8,276.3 L101.9,274.7 L102.1,272.9 L102.2,271.1 L102.4,269.2 L102.6,267.3 L102.7,265.3 L102.9,263.3 L103.1,261.2 L103.3,259.1 L103.5,257.1 L103.7,255.0 L103.9,253.0 L104.1,251.0 L104.3,249.0 L104.5,247.1 L104.7,245.3 L104.9,243.5 L105.0,241.8 L105.2,240.2 L105.4,238.6 L105.6,237.0 L105.7,235.4 L105.9,233.9 L106.1,232.3 L106.2,230.7 L106.4,229.1 L106.6,227.4 L106.7,225.7 L106.9,223.9 L107.1,222.0 L107.2,220.0 L107.4,218.0 L107.6,216.0 L107.8,213.9 L108.0,211.9 L108.1,209.8 L108.3,207.7 L108.5,205.7 L108.7,203.7 L108.9,201.8 L109.1,199.9 L109.3,198.0 L109.5,196.3 L109.7,194.7 L109.8,193.1 L110.0,191.7 L110.3,190.3 L110.5,188.9 L110.7,187.6 L110.9,186.2 L111.2,184.9 L111.5,183.5 L111.8,182.0 L112.1,180.5 L112.4,178.8 L112.8,177.1 L113.2,175.2 L113.6,173.3 L114.0,171.4 L114.4,169.4 L114.9,167.4 L115.3,165.4 L115.8,163.4 L116.3,161.5 L116.8,159.6 L117.2,157.7 L117.7,155.9 L118.2,154.3 L118.7,152.7 L119.1,151.3 L119.6,150.0 L120.0,148.7 L120.5,147.6 L120.9,146.5 L121.3,145.5 L121.7,144.5 L122.1,143.5 L122.5,142.5 L122.8,141.4 L123.2,140.4 L123.5,139.3 L123.8,138.2 L124.2,137.0 L124.5,135.9 L124.8,134.7 L125.1,133.5 L125.4,132.3 L125.7,131.1 L125.9,129.9 L126.2,128.7 L126.5,127.5 L126.8,126.3 L127.1,125.1 L127.4,124.0 L127.7,122.8 L128.0,121.6 L128.3,120.5 L128.6,119.4 L128.9,118.3 L129.3,117.1 L129.6,116.0 L129.9,114.9 L130.3,113.7 L130.6,112.5 L131.0,111.3 L131.3,110.0 L131.7,108.7 L132.1,107.3 L132.4,105.9 L132.8,104.5 L133.2,103.1 L133.5,101.6 L133.9,100.2 L134.2,98.8 L134.6,97.4 L134.9,96.0 L135.3,94.6 L135.6,93.3 L136.0,92.1 L136.3,90.8 L136.6,89.6 L136.9,88.4 L137.3,87.2 L137.6,86.0 L137.9,84.9 L138.2,83.7 L138.5,82.5 L138.8,81.3 L139.1,80.0 L139.5,78.8 L139.8,77.6 L140.1,76.3 L140.4,75.1 L140.7,73.9 L141.1,72.7 L141.4,71.5 L141.8,70.4 L142.1,69.3 L142.5,68.2 L142.8,67.1 L143.2,66.1 L143.6,65.1 L144.0,64.2 L144.4,63.3 L144.8,62.4 L145.2,61.7 L145.6,61.0 L146.0,60.3 L146.5,59.8 L147.0,59.3 L147.5,58.8 L147.9,58.5 L148.5,58.2 L149.0,58.1 L149.5,58.0 L150.0,58.0 L150.6,58.1 L151.1,58.3 L151.7,58.6 L152.3,59.0 L152.8,59.5 L153.4,60.1 L154.0,60.7 L154.5,61.4 L155.1,62.2 L155.6,62.9 L156.1,63.7 L156.7,64.4 L157.2,65.2 L157.7,65.9 L158.2,66.7 L158.6,67.4 L159.1,68.2 L159.6,68.9 L160.0,69.7 L160.5,70.5 L160.9,71.2 L161.4,72.0 L161.8,72.8 L162.3,73.6 L162.8,74.4 L163.2,75.3 L163.7,76.1 L164.2,77.0 L164.6,77.9 L165.1,78.8 L165.6,79.7 L166.1,80.7 L166.6,81.6 L167.2,82.6 L167.7,83.6 L168.3,84.6 L168.8,85.5 L169.4,86.5 L170.0,87.5 L170.7,88.4 L171.3,89.3 L172.0,90.1 L172.6,90.9 L173.3,91.7 L174.1,92.4 L174.8,93.0 L175.6,93.6 L176.4,94.1 L177.2,94.5 L178.0,94.8 L178.8,95.0 L179.7,95.2 L180.6,95.3 L181.4,95.3 L182.3,95.2 L183.1,95.0 L184.0,94.8 L184.8,94.4 L185.6,94.0 L186.4,93.6 L187.1,93.0 L187.9,92.4 L188.6,91.7 L189.2,90.9 L189.9,90.1 L190.5,89.3 L191.1,88.4 L191.7,87.5 L192.3,86.6 L193.0,85.7 L193.6,84.8 L194.2,83.9 L194.9,83.0 L195.5,82.1 L196.2,81.2 L196.9,80.4 L197.5,79.5 L198.2,78.6 L198.8,77.7 L199.5,76.8 L200.2,75.9 L200.8,74.9 L201.5,74.0 L202.2,73.1 L202.8,72.1 L203.4,71.2 L204.1,70.2 L204.7,69.2 L205.4,68.2 L206.0,67.2 L206.6,66.2 L207.2,65.1 L207.8,64.1 L208.5,63.1 L209.1,62.1 L209.7,61.1 L210.3,60.1 L210.9,59.1 L211.6,58.1 L212.2,57.2 L212.8,56.2 L213.5,55.3 L214.1,54.4 L214.8,53.6 L215.5,52.7 L216.2,51.9 L216.8,51.1 L217.5,50.4 L218.3,49.7 L219.0,49.0 L219.7,48.4 L220.5,47.9 L221.3,47.3 L222.1,46.9 L222.9,46.4 L223.7,46.0 L224.5,45.7 L225.3,45.4 L226.2,45.2 L227.0,45.0 L227.9,44.8 L228.8,44.7 L229.6,44.6 L230.5,44.6 L231.4,44.6 L232.3,44.7 L233.1,44.8 L234.0,45.0 L234.9,45.2 L235.7,45.4 L236.6,45.7 L237.4,46.0 L238.3,46.4 L239.1,46.8 L239.9,47.2 L240.7,47.7 L241.5,48.1 L242.3,48.7 L243.1,49.2 L243.8,49.8 L244.6,50.4 L245.3,51.0 L246.0,51.6 L246.6,52.3 L247.3,53.0 L247.9,53.7 L248.5,54.4 L249.1,55.1 L249.7,55.9 L250.2,56.6 L250.8,57.4 L251.4,58.2 L252.0,59.0 L252.6,59.9 L253.2,60.7 L253.8,61.6 L254.5,62.5 L255.2,63.4 L255.9,64.3 L256.7,65.1 L257.4,66.0 L258.2,66.9 L258.9,67.8 L259.7,68.7 L260.5,69.5 L261.3,70.3 L262.1,71.2 L262.9,72.0 L263.7,72.8 L264.5,73.6 L265.3,74.4 L266.1,75.1 L266.9,75.9 L267.7,76.6 L268.5,77.3 L269.3,78.1 L270.1,78.8 L270.9,79.5 L271.7,80.1 L272.5,80.8 L273.3,81.4 L274.1,82.0 L274.9,82.6 L275.7,83.2 L276.6,83.8 L277.4,84.3 L278.2,84.9 L279.0,85.4 L279.8,85.9 L280.6,86.3 L281.4,86.8 L282.2,87.2 L283.1,87.6 L283.9,88.0 L284.7,88.4 L285.5,88.8 L286.4,89.1 L287.2,89.4 L288.0,89.7 L288.9,90.0 L289.7,90.2 L290.6,90.5 L291.4,90.7 L292.3,90.9 L293.1,91.1 L294.0,91.3 L294.9,91.4 L295.7,91.5 L296.6,91.7 L297.5,91.7 L298.4,91.8 L299.2,91.9 L300.1,91.9 L301.0,92.0 L301.9,92.0 L302.8,92.0 L303.7,91.9 L304.6,91.9 L305.5,91.8 L306.4,91.7 L307.4,91.6 L308.3,91.5 L309.2,91.4 L310.1,91.2 L311.0,91.0 L311.9,90.8 L312.8,90.6 L313.8,90.4 L314.7,90.1 L315.6,89.9 L316.5,89.6 L317.4,89.3 L318.3,89.0 L319.3,88.6 L320.2,88.3 L321.1,87.9 L322.0,87.6 L322.9,87.2 L323.8,86.8 L324.7,86.4 L325.6,86.0 L326.5,85.5 L327.4,85.1 L328.3,84.7 L329.1,84.2 L330.0,83.8 L330.9,83.3 L331.7,82.8 L332.6,82.4 L333.5,81.9 L334.3,81.4 L335.2,80.9 L336.0,80.4 L336.9,79.9 L337.7,79.4 L338.6,78.9 L339.4,78.4 L340.2,77.9 L341.1,77.4 L341.9,76.8 L342.7,76.3 L343.6,75.8 L344.4,75.3 L345.2,74.8 L346.1,74.2 L346.9,73.7 L347.7,73.2 L348.6,72.7 L349.4,72.1 L350.2,71.6 L351.1,71.1 L351.9,70.5 L352.7,70.0 L353.6,69.5 L354.4,69.0 L355.3,68.4 L356.1,67.9 L357.0,67.4 L357.8,66.9 L358.7,66.4 L359.5,65.9 L360.4,65.4 L361.2,64.9 L362.1,64.4 L363.0,63.9 L363.8,63.4 L364.7,62.9 L365.6,62.5 L366.4,62.0 L367.3,61.5 L368.2,61.1 L369.1,60.7 L370.0,60.2 L370.9,59.8 L371.8,59.4 L372.7,59.0 L373.5,58.7 L374.4,58.3 L375.3,57.9 L376.2,57.6 L377.1,57.3 L378.1,57.0 L379.0,56.7 L379.9,56.4 L380.8,56.1 L381.7,55.9 L382.6,55.6 L383.5,55.4 L384.4,55.1 L385.3,54.9 L386.3,54.7 L387.2,54.5 L388.1,54.4 L389.0,54.2 L390.0,54.1 L390.9,53.9 L391.8,53.8 L392.7,53.7 L393.7,53.6 L394.6,53.5 L395.5,53.4 L396.4,53.3 L397.4,53.3 L398.3,53.2 L399.2,53.2 L400.2,53.2 L401.1,53.1 L402.0,53.1 L403.0,53.1 L403.9,53.2 L404.8,53.2 L405.8,53.2 L406.7,53.3 L407.7,53.3 L408.6,53.4 L409.5,53.5 L410.5,53.6 L411.4,53.7 L412.4,53.8 L413.3,53.9 L414.3,54.0 L415.2,54.1 L416.2,54.3 L417.1,54.4 L418.1,54.6 L419.1,54.8 L420.0,54.9 L421.0,55.1 L422.0,55.3 L423.0,55.5 L423.9,55.7 L424.9,56.0 L425.9,56.2 L426.8,56.4 L427.8,56.7 L428.8,56.9 L429.7,57.2 L430.7,57.4 L431.7,57.7 L432.6,57.9 L433.5,58.2 L434.5,58.5 L435.4,58.8 L436.3,59.0 L437.2,59.3 L438.1,59.6 L439.0,59.9 L440.0,60.2 L440.9,60.5 L441.8,60.8 L442.8,61.2 L443.7,61.5 L444.7,61.8 L445.7,62.2 L446.7,62.6 L447.8,62.9 L448.9,63.3 L450.0,63.7 L451.1,64.2 L452.3,64.6 L453.5,65.1 L454.7,65.5 L455.9,66.0 L457.1,66.5 L458.3,67.0 L459.5,67.5 L460.7,68.0 L461.9,68.4 L463.1,68.9 L464.2,69.4 L465.3,69.8 L466.5,70.3 L467.5,70.7 L468.6,71.2 L469.7,71.6 L470.8,72.1 L471.8,72.5 L472.9,73.0 L474.0,73.4 L475.0,73.8 L476.1,74.3 L477.1,74.7 L478.2,75.2 L479.2,75.6 L480.3,76.0 L481.4,76.5 L482.5,76.9 L483.6,77.4 L484.7,77.8 L485.8,78.3 L486.9,78.7 L488.0,79.2 L489.1,79.6 L490.3,80.1 L491.4,80.5 L492.6,80.9 L493.7,81.4 L494.9,81.8 L496.0,82.3 L497.2,82.7 L498.4,83.1 L499.6,83.5 L500.7,84.0 L501.9,84.4 L503.1,84.8 L504.3,85.2 L505.5,85.6 L506.7,86.0 L507.9,86.4 L509.1,86.7 L510.3,87.1 L511.5,87.5 L512.7,87.8 L513.9,88.2 L515.2,88.5 L516.4,88.8 L517.5,89.1 L518.7,89.4 L519.9,89.7 L521.0,90.0 L522.1,90.2 L523.1,90.4 L524.1,90.6 L525.1,90.8 L526.0,91.0 L526.9,91.2 L527.7,91.3 L528.4,91.4 L529.0,91.5" stroke="#ff00ff"/>
<path d="M58.0,358.5 L59.1,358.5 L60.3,358.4 L61.3,358.4 L62.4,358.3 L63.5,358.3 L64.5,358.2 L65.5,358.1 L66.4,358.1 L67.4,358.0 L68.3,357.9 L69.1,357.8 L70.0,357.7 L70.8,357.6 L71.6,357.5 L72.4,357.4 L73.2,357.3 L73.9,357.2 L74.6,357.1 L75.3,357.0 L75.9,356.8 L76.6,356.7 L77.2,356.6 L77.7,356.4 L78.3,356.3 L78.9,356.1 L79.4,355.9 L79.9,355.6 L80.4,355.3 L80.9,355.0 L81.4,354.7 L81.9,354.3 L82.3,353.8 L82.8,353.3 L83.2,352.8 L83.7,352.1 L84.1,351.5 L84.6,350.7 L85.0,350.0 L85.4,349.2 L85.8,348.3 L86.2,347.4 L86.6,346.4 L87.0,345.4 L87.3,344.4 L87.7,343.3 L88.0,342.2 L88.3,341.1 L88.6,339.9 L88.9,338.7 L89.1,337.5 L89.4,336.3 L89.6,335.1 L89.9,333.8 L90.1,332.6 L90.3,331.3 L90.5,330.1 L90.7,328.8 L90.9,327.6 L91.1,326.4 L91.3,325.1 L91.4,323.9 L91.6,322.7 L91.8,321.4 L91.9,320.2 L92.1,318.9 L92.3,317.6 L92.4,316.3 L92.6,315.0 L92.7,313.7 L92.9,312.4 L93.1,311.0 L93.2,309.6 L93.4,308.2 L93.5,306.8 L93.7,305.3 L93.9,303.8 L94.1,302.3 L94.2,300.8 L94.4,299.3 L94.6,297.8 L94.7,296.3 L94.9,294.8 L95.0,293.3 L95.2,291.8 L95.3,290.4 L95.5,289.0 L95.6,287.6 L95.7,286.3 L95.8,284.9 L96.0,283.6 L96.1,282.2 L96.2,280.7 L96.3,279.3 L96.5,277.7 L96.6,276.1 L96.8,274.4 L96.9,272.6 L97.1,270.7 L97.3,268.8 L97.5,266.7 L97.7,264.7 L97.9,262.6 L98.1,260.5 L98.3,258.4 L98.5,256.3 L98.7,254.2 L98.9,252.1 L99.1,250.1 L99.3,248.1 L99.5,246.2 L99.7,244.3 L99.8,242.6 L100.0,240.9 L100.1,239.2 L100.3,237.6 L100.4,236.0 L100.5,234.4 L100.7,232.8 L100.8,231.2 L100.9,229.5 L101.1,227.8 L101.2,226.1 L101.4,224.2 L101.5,222.3 L101.7,220.3 L101.8,218.3 L102.0,216.2 L102.2,214.1 L102.3,212.0 L102.5,209.8 L102.7,207.7 L102.9,205.6 L103.1,203.6 L103.2,201.6 L103.4,199.7 L103.6,197.8 L103.8,196.1 L104.0,194.4 L104.2,192.8 L104.3,191.4 L104.5,190.0 L104.7,188.6 L104.9,187.2 L105.1,185.8 L105.3,184.4 L105.5,183.0 L105.7,181.4 L105.9,179.8 L106.1,178.0 L106.4,176.2 L106.6,174.2 L106.9,172.2 L107.1,170.2 L107.4,168.1 L107.6,166.0 L107.9,164.0 L108.1,161.9 L108.4,160.0 L108.6,158.0 L108.8,156.2 L109.0,154.5 L109.2,153.0 L109.4,151.5 L109.6,150.2 L109.7,149.1 L109.9,148.0 L110.0,147.0 L110.2,146.0 L110.4,145.1 L110.6,144.1 L110.8,143.2 L111.0,142.2 L111.3,141.2 L111.7,140.2 L112.0,139.2 L112.4,138.3 L112.9,137.3 L113.4,136.3 L113.9,135.4 L114.5,134.5 L115.2,133.6 L115.8,132.7 L116.5,131.8 L117.2,130.9 L117.8,130.0 L118.4,129.2 L119.1,128.3 L119.7,127.4 L120.2,126.6 L120.8,125.7 L121.3,124.8 L121.8,124.0 L122.3,123.1 L122.8,122.2 L123.2,121.4 L123.7,120.5 L124.1,119.7 L124.5,118.8 L124.9,118.0 L125.3,117.1 L125.7,116.3 L126.0,115.4 L126.4,114.5 L126.7,113.6 L127.0,112.7 L127.4,111.6 L127.7,110.6 L128.1,109.4 L128.5,108.2 L128.8,106.8 L129.2,105.5 L129.6,104.1 L130.0,102.6 L130.3,101.2 L130.7,99.7 L131.1,98.2 L131.4,96.7 L131.8,95.3 L132.1,93.8 L132.4,92.4 L132.7,91.1 L133.0,89.7 L133.3,88.4 L133.6,87.1 L133.9,85.8 L134.2,84.5 L134.4,83.3 L134.7,82.1 L135.0,80.8 L135.4,79.6 L135.7,78.5 L136.0,77.3 L136.3,76.2 L136.6,75.1 L137.0,74.0 L137.3,72.9 L137.6,71.9 L137.9,70.8 L138.3,69.9 L138.6,68.9 L138.9,68.0 L139.3,67.1 L139.6,66.2 L139.9,65.4 L140.2,64.6 L140.5,63.8 L140.9,63.0 L141.2,62.3 L141.6,61.5 L142.0,60.7 L142.4,59.9 L142.8,59.1 L143.3,58.3 L143.8,57.5 L144.3,56.7 L144.9,56.1 L145.5,55.5 L146.2,54.9 L146.9,54.5 L147.6,54.2 L148.4,54.0 L149.1,54.0 L149.9,54.1 L150.7,54.4 L151.4,54.8 L152.1,55.3 L152.8,55.9 L153.5,56.5 L154.1,57.2 L154.7,57.9 L155.3,58.6 L155.8,59.3 L156.2,60.0 L156.7,60.7 L157.1,61.5 L157.5,62.2 L157.9,63.0 L158.3,63.7 L158.8,64.5 L159.2,65.3 L159.6,66.1 L160.1,67.0 L160.6,67.8 L161.1,68.6 L161.7,69.5 L162.2,70.4 L162.7,71.3 L163.3,72.1 L163.8,73.0 L164.3,73.9 L164.8,74.9 L165.2,75.8 L165.7,76.7 L166.1,77.7 L166.6,78.7 L167.1,79.7 L167.5,80.7 L168.0,81.7 L168.5,82.8 L169.0,83.9 L169.6,84.9 L170.1,86.0 L170.7,87.0 L171.3,88.0 L172.0,88.9 L172.7,89.8 L173.4,90.6 L174.1,91.3 L174.9,92.0 L175.7,92.6 L176.6,93.2 L177.4,93.7 L178.3,94.1 L179.1,94.4 L180.0,94.7 L180.9,94.9 L181.8,95.1 L182.7,95.1 L183.6,95.1 L184.5,95.0 L185.3,94.8 L186.2,94.6 L187.0,94.2 L187.8,93.8 L188.6,93.3 L189.4,92.7 L190.1,92.1 L190.8,91.3 L191.5,90.5 L192.1,89.7 L192.8,88.8 L193.5,87.9 L194.2,86.9 L194.9,86.0 L195.6,85.1 L196.3,84.2 L197.0,83.3 L197.7,82.4 L198.5,81.5 L199.2,80.6 L199.9,79.7 L200.6,78.8 L201.3,78.0 L202.0,77.1 L202.6,76.2 L203.3,75.4 L203.9,74.5 L204.5,73.6 L205.1,72.7 L205.7,71.8 L206.3,70.8 L206.9,69.8 L207.5,68.8 L208.1,67.7 L208.7,66.7 L209.2,65.6 L209.8,64.6 L210.4,63.5 L211.1,62.4 L211.7,61.4 L212.3,60.3 L212.9,59.3 L213.6,58.3 L214.2,57.3 L214.9,56.4 L215.6,55.4 L216.3,54.6 L217.0,53.7 L217.7,52.9 L218.4,52.1 L219.2,51.4 L220.0,50.7 L220.8,50.1 L221.6,49.5 L222.4,48.9 L223.2,48.4 L224.0,48.0 L224.9,47.6 L225.7,47.2 L226.6,46.9 L227.5,46.6 L228.3,46.3 L229.2,46.1 L230.1,46.0 L230.9,45.9 L231.8,45.8 L232.7,45.8 L233.6,45.8 L234.5,45.9 L235.3,46.0 L236.2,46.2 L237.1,46.4 L237.9,46.7 L238.8,46.9 L239.6,47.3 L240.4,47.6 L241.3,48.0 L242.1,48.5 L242.9,49.0 L243.6,49.5 L244.4,50.0 L245.1,50.6 L245.9,51.2 L246.6,51.8 L247.3,52.4 L247.9,53.1 L248.6,53.8 L249.2,54.5 L249.8,55.3 L250.3,56.0 L250.9,56.8 L251.4,57.6 L252.0,58.4 L252.6,59.2 L253.2,60.1 L253.8,60.9 L254.5,61.8 L255.2,62.7 L255.9,63.6 L256.6,64.4 L257.4,65.3 L258.2,66.2 L258.9,67.1 L259.7,68.1 L260.5,69.0 L261.3,69.9 L262.1,70.8 L262.8,71.7 L263.6,72.5 L264.4,73.4 L265.2,74.2 L266.0,75.1 L266.8,75.9 L267.6,76.6 L268.5,77.4 L269.3,78.1 L270.1,78.8 L271.0,79.5 L271.8,80.2 L272.7,80.8 L273.5,81.4 L274.4,82.0 L275.2,82.6 L276.1,83.2 L276.9,83.7 L277.8,84.3 L278.6,84.8 L279.4,85.3 L280.3,85.8 L281.1,86.2 L281.9,86.7 L282.8,87.1 L283.6,87.5 L284.4,87.9 L285.2,88.3 L286.1,88.6 L286.9,89.0 L287.7,89.3 L288.6,89.6 L289.4,89.9 L290.3,90.1 L291.1,90.4 L292.0,90.6 L292.9,90.8 L293.8,91.0 L294.7,91.1 L295.6,91.3 L296.5,91.4 L297.5,91.5 L298.4,91.6 L299.4,91.7 L300.4,91.8 L301.4,91.8 L302.3,91.9 L303.4,91.9 L304.4,91.9 L305.4,91.8 L306.4,91.8 L307.4,91.7 L308.4,91.6 L309.4,91.5 L310.5,91.4 L311.5,91.2 L312.5,91.0 L313.5,90.8 L314.5,90.6 L315.4,90.4 L316.4,90.2 L317.4,89.9 L318.3,89.7 L319.2,89.4 L320.1,89.1 L321.1,88.8 L322.0,88.5 L322.8,88.2 L323.7,87.9 L324.6,87.6 L325.5,87.3 L326.4,86.9 L327.2,86.6 L328.1,86.2 L329.0,85.8 L329.9,85.4 L330.8,85.0 L331.7,84.6 L332.6,84.1 L333.6,83.7 L334.5,83.2 L335.5,82.8 L336.5,82.3 L337.5,81.7 L338.5,81.2 L339.5,80.6 L340.6,80.1 L341.6,79.5 L342.7,78.9 L343.7,78.3 L344.7,77.7 L345.7,77.1 L346.7,76.6 L347.6,76.0 L348.6,75.5 L349.5,75.0 L350.3,74.4 L351.2,73.9 L352.1,73.4 L352.9,72.9 L353.8,72.4 L354.6,71.9 L355.5,71.4 L356.3,70.9 L357.2,70.4 L358.1,69.9 L358.9,69.4 L359.8,68.9 L360.6,68.4 L361.5,67.9 L362.4,67.4 L363.2,66.9 L364.1,66.4 L365.0,66.0 L365.9,65.5 L366.7,65.0 L367.6,64.6 L368.5,64.1 L369.4,63.6 L370.3,63.2 L371.2,62.8 L372.1,62.3 L373.0,61.9 L373.9,61.5 L374.8,61.1 L375.7,60.7 L376.6,60.3 L377.5,60.0 L378.4,59.6 L379.4,59.2 L380.3,58.9 L381.2,58.6 L382.1,58.3 L383.1,58.0 L384.0,57.7 L385.0,57.4 L385.9,57.2 L386.9,56.9 L387.8,56.7 L388.8,56.5 L389.8,56.3 L390.7,56.1 L391.7,55.9 L392.7,55.7 L393.7,55.6 L394.7,55.5 L395.7,55.3 L396.7,55.2 L397.7,55.1 L398.7,55.0 L399.7,55.0 L400.7,54.9 L401.7,54.8 L402.7,54.8 L403.7,54.8 L404.8,54.8 L405.8,54.8 L406.8,54.8 L407.8,54.8 L408.8,54.9 L409.8,54.9 L410.8,55.0 L411.7,55.0 L412.7,55.1 L413.7,55.2 L414.7,55.3 L415.6,55.4 L416.6,55.5 L417.5,55.6 L418.5,55.8 L419.4,55.9 L420.4,56.0 L421.3,56.2 L422.2,56.4 L423.1,56.5 L424.1,56.7 L425.0,56.9 L425.9,57.1 L426.8,57.2 L427.7,57.4 L428.7,57.6 L429.6,57.9 L430.5,58.1 L431.4,58.3 L432.3,58.5 L433.3,58.8 L434.2,59.0 L435.1,59.2 L436.1,59.5 L437.0,59.8 L438.0,60.0 L439.0,60.3 L440.0,60.6 L440.9,60.9 L442.0,61.2 L443.0,61.5 L444.0,61.8 L445.0,62.2 L446.1,62.5 L447.2,62.9 L448.3,63.2 L449.4,63.6 L450.5,64.0 L451.7,64.4 L452.8,64.8 L454.0,65.2 L455.2,65.6 L456.4,66.0 L457.6,66.5 L458.8,66.9 L460.0,67.3 L461.3,67.8 L462.5,68.2 L463.7,68.7 L464.9,69.1 L466.1,69.6 L467.3,70.0 L468.4,70.5 L469.6,70.9 L470.7,71.4 L471.8,71.8 L472.9,72.2 L474.0,72.6 L475.1,73.1 L476.1,73.5 L477.2,73.9 L478.2,74.3 L479.3,74.7 L480.4,75.1 L481.5,75.5 L482.5,75.9 L483.6,76.4 L484.8,76.8 L485.9,77.2 L487.0,77.7 L488.2,78.1 L489.3,78.5 L490.5,79.0 L491.7,79.4 L492.8,79.9 L494.0,80.3 L495.2,80.8 L496.4,81.2 L497.6,81.6 L498.9,82.1 L500.1,82.5 L501.3,82.9 L502.5,83.4 L503.7,83.8 L505.0,84.2 L506.2,84.6 L507.4,85.0 L508.7,85.4 L509.9,85.8 L511.2,86.2 L512.4,86.6 L513.6,87.0 L514.9,87.3 L516.1,87.7 L517.3,88.1 L518.5,88.4 L519.6,88.7 L520.8,89.0 L521.9,89.3 L523.0,89.6 L524.0,89.8 L525.0,90.1 L525.9,90.3 L526.8,90.5 L527.6,90.7 L528.4,90.8 L529.0,91.0" stroke="#ff8000"/>
<path d="M58.0,358.4 L59.2,358.3 L60.5,358.3 L61.7,358.2 L62.9,358.1 L64.2,358.0 L65.4,358.0 L66.6,357.9 L67.8,357.8 L69.1,357.8 L70.3,357.7 L71.5,357.6 L72.7,357.6 L73.8,357.5 L75.0,357.4 L76.2,357.4 L77.3,357.3 L78.4,357.3 L79.5,357.2 L80.6,357.1 L81.6,357.1 L82.7,357.0 L83.7,357.0 L84.7,356.9 L85.6,356.8 L86.6,356.8 L87.5,356.7 L88.3,356.7 L89.2,356.6 L90.0,356.5 L90.8,356.5 L91.5,356.4 L92.2,356.3 L92.9,356.1 L93.5,356.0 L94.2,355.8 L94.7,355.6 L95.3,355.4 L95.8,355.1 L96.3,354.7 L96.7,354.4 L97.1,353.9 L97.5,353.4 L97.8,352.9 L98.1,352.3 L98.4,351.6 L98.7,350.9 L98.9,350.1 L99.1,349.3 L99.3,348.5 L99.5,347.6 L99.7,346.6 L99.9,345.7 L100.2,344.7 L100.4,343.6 L100.6,342.5 L100.9,341.4 L101.1,340.3 L101.4,339.2 L101.7,338.0 L102.0,336.9 L102.3,335.7 L102.6,334.5 L102.9,333.3 L103.1,332.1 L103.4,330.9 L103.6,329.7 L103.8,328.5 L104.0,327.3 L104.1,326.1 L104.2,325.0 L104.3,323.8 L104.4,322.6 L104.5,321.4 L104.6,320.1 L104.7,318.9 L104.7,317.7 L104.8,316.4 L104.8,315.2 L104.9,313.9 L104.9,312.6 L105.0,311.3 L105.1,309.9 L105.2,308.6 L105.3,307.2 L105.4,305.8 L105.5,304.4 L105.6,302.9 L105.8,301.5 L105.9,300.0 L106.1,298.5 L106.3,297.1 L106.4,295.6 L106.6,294.1 L106.7,292.7 L106.8,291.3 L107.0,290.0 L107.1,288.6 L107.2,287.3 L107.3,286.0 L107.3,284.7 L107.4,283.4 L107.5,282.0 L107.6,280.7 L107.6,279.2 L107.7,277.8 L107.8,276.2 L107.8,274.6 L107.9,272.8 L108.0,271.0 L108.1,269.1 L108.2,267.2 L108.3,265.2 L108.4,263.2 L108.5,261.1 L108.6,259.1 L108.7,257.0 L108.8,255.0 L109.0,253.0 L109.1,251.0 L109.2,249.0 L109.3,247.2 L109.4,245.3 L109.5,243.6 L109.7,241.9 L109.8,240.3 L109.9,238.7 L110.0,237.2 L110.1,235.6 L110.2,234.1 L110.3,232.6 L110.4,231.0 L110.5,229.4 L110.6,227.8 L110.7,226.1 L110.8,224.3 L110.9,222.5 L111.0,220.5 L111.1,218.6 L111.2,216.5 L111.3,214.5 L111.3,212.4 L111.4,210.4 L111.5,208.3 L111.6,206.3 L111.7,204.3 L111.8,202.3 L111.9,200.4 L112.0,198.6 L112.2,196.8 L112.3,195.2 L112.4,193.7 L112.6,192.2 L112.8,190.8 L112.9,189.5 L113.1,188.2 L113.3,186.9 L113.4,185.5 L113.6,184.2 L113.8,182.8 L113.9,181.3 L114.1,179.7 L114.3,178.0 L114.4,176.2 L114.6,174.3 L114.7,172.4 L114.9,170.4 L115.0,168.4 L115.1,166.4 L115.3,164.3 L115.4,162.3 L115.5,160.4 L115.7,158.5 L115.8,156.7 L115.9,155.0 L116.0,153.4 L116.1,151.9 L116.2,150.5 L116.3,149.3 L116.5,148.2 L116.6,147.1 L116.7,146.1 L116.8,145.0 L116.9,144.0 L117.0,142.9 L117.1,141.8 L117.2,140.6 L117.4,139.4 L117.5,138.2 L117.6,137.0 L117.8,135.8 L118.0,134.6 L118.2,133.4 L118.4,132.3 L118.7,131.2 L119.0,130.3 L119.3,129.4 L119.7,128.6 L120.1,127.8 L120.5,127.1 L121.0,126.5 L121.5,125.9 L122.0,125.4 L122.6,124.9 L123.2,124.5 L123.8,124.1 L124.5,123.7 L125.2,123.4 L125.9,123.1 L126.7,122.8 L127.5,122.5 L128.3,122.2 L129.1,121.9 L129.9,121.7 L130.6,121.3 L131.4,121.0 L132.2,120.6 L132.9,120.2 L133.6,119.8 L134.3,119.3 L134.9,118.7 L135.5,118.1 L136.0,117.4 L136.5,116.7 L137.0,115.9 L137.4,115.2 L137.9,114.4 L138.3,113.7 L138.7,113.0 L139.1,112.3 L139.5,111.6 L139.9,110.8 L140.3,110.0 L140.7,109.1 L141.1,108.1 L141.5,107.0 L141.9,105.8 L142.3,104.6 L142.7,103.3 L143.1,102.0 L143.5,100.6 L143.9,99.3 L144.3,97.9 L144.7,96.5 L145.1,95.2 L145.4,93.9 L145.8,92.6 L146.2,91.4 L146.6,90.1 L147.0,88.9 L147.4,87.6 L147.7,86.4 L148.1,85.2 L148.5,84.0 L148.9,82.7 L149.3,81.5 L149.6,80.3 L150.0,79.0 L150.4,77.8 L150.8,76.5 L151.1,75.3 L151.5,74.1 L151.9,72.8 L152.3,71.6 L152.7,70.4 L153.1,69.3 L153.4,68.1 L153.8,66.9 L154.2,65.8 L154.6,64.7 L155.0,63.6 L155.5,62.5 L155.9,61.5 L156.3,60.5 L156.7,59.5 L157.1,58.6 L157.6,57.7 L158.0,56.8 L158.5,56.0 L159.0,55.2 L159.4,54.5 L159.9,53.8 L160.4,53.1 L160.9,52.5 L161.4,51.9 L161.9,51.4 L162.5,50.9 L163.0,50.4 L163.6,50.0 L164.2,49.6 L164.8,49.3 L165.4,48.9 L166.0,48.6 L166.7,48.4 L167.4,48.1 L168.1,48.0 L168.8,47.9 L169.5,47.8 L170.2,47.9 L170.9,48.1 L171.6,48.3 L172.3,48.6 L173.0,49.0 L173.7,49.5 L174.5,50.0 L175.2,50.6 L175.9,51.2 L176.6,51.9 L177.3,52.6 L177.9,53.3 L178.6,54.1 L179.3,54.9 L180.0,55.7 L180.6,56.5 L181.3,57.3 L181.9,58.1 L182.6,59.0 L183.2,59.9 L183.9,60.7 L184.5,61.6 L185.1,62.5 L185.7,63.4 L186.3,64.3 L187.0,65.3 L187.6,66.2 L188.2,67.1 L188.8,68.1 L189.4,69.1 L190.0,70.0 L190.6,71.0 L191.2,72.0 L191.8,73.0 L192.3,74.0 L192.9,74.9 L193.5,75.8 L194.1,76.7 L194.8,77.6 L195.4,78.4 L196.0,79.2 L196.6,79.9 L197.3,80.6 L197.9,81.3 L198.5,81.9 L199.2,82.6 L199.9,83.2 L200.6,83.9 L201.3,84.6 L202.0,85.2 L202.7,85.9 L203.4,86.6 L204.1,87.2 L204.8,87.8 L205.6,88.4 L206.3,89.0 L207.1,89.5 L207.8,90.0 L208.6,90.4 L209.4,90.9 L210.2,91.2 L210.9,91.6 L211.7,91.9 L212.5,92.2 L213.3,92.5 L214.1,92.7 L214.9,92.9 L215.7,93.0 L216.6,93.2 L217.4,93.3 L218.2,93.3 L219.0,93.4 L219.9,93.4 L220.7,93.3 L221.5,93.3 L222.4,93.2 L223.2,93.1 L224.1,93.0 L224.9,92.8 L225.7,92.6 L226.6,92.4 L227.4,92.2 L228.3,92.0 L229.1,91.7 L229.9,91.4 L230.7,91.1 L231.6,90.8 L232.4,90.4 L233.2,90.1 L234.0,89.7 L234.8,89.3 L235.6,88.9 L236.4,88.4 L237.2,88.0 L238.0,87.5 L238.8,87.1 L239.5,86.6 L240.3,86.1 L241.1,85.6 L241.8,85.1 L242.6,84.5 L243.3,84.0 L244.1,83.5 L244.8,82.9 L245.6,82.3 L246.3,81.8 L247.1,81.2 L247.8,80.6 L248.5,80.0 L249.3,79.5 L250.0,78.9 L250.7,78.3 L251.4,77.7 L252.2,77.1 L252.9,76.5 L253.6,75.9 L254.3,75.2 L255.0,74.6 L255.8,74.0 L256.5,73.4 L257.2,72.7 L257.9,72.1 L258.7,71.5 L259.4,70.8 L260.1,70.1 L260.9,69.5 L261.6,68.8 L262.3,68.1 L263.1,67.5 L263.9,66.8 L264.6,66.1 L265.4,65.4 L266.2,64.7 L266.9,64.0 L267.7,63.2 L268.5,62.5 L269.3,61.8 L270.1,61.1 L271.0,60.4 L271.8,59.7 L272.6,59.0 L273.4,58.3 L274.2,57.7 L275.1,57.0 L275.9,56.4 L276.7,55.9 L277.6,55.3 L278.4,54.8 L279.2,54.3 L280.1,53.9 L280.9,53.4 L281.7,53.0 L282.6,52.6 L283.4,52.3 L284.2,51.9 L285.0,51.6 L285.8,51.3 L286.6,50.9 L287.5,50.6 L288.3,50.4 L289.1,50.1 L289.8,49.8 L290.6,49.6 L291.4,49.3 L292.2,49.1 L293.0,48.9 L293.8,48.6 L294.5,48.5 L295.3,48.3 L296.1,48.1 L296.9,48.0 L297.7,47.8 L298.6,47.7 L299.4,47.6 L300.2,47.6 L301.0,47.5 L301.9,47.4 L302.7,47.4 L303.5,47.4 L304.4,47.4 L305.2,47.4 L306.1,47.4 L306.9,47.5 L307.8,47.5 L308.6,47.6 L309.4,47.7 L310.3,47.8 L311.1,47.9 L312.0,48.0 L312.8,48.2 L313.6,48.3 L314.5,48.5 L315.3,48.7 L316.1,48.9 L316.9,49.1 L317.8,49.3 L318.6,49.5 L319.4,49.8 L320.2,50.0 L321.0,50.3 L321.8,50.5 L322.6,50.8 L323.4,51.1 L324.2,51.4 L325.0,51.7 L325.8,52.0 L326.6,52.3 L327.4,52.6 L328.2,53.0 L329.0,53.3 L329.8,53.6 L330.6,54.0 L331.4,54.3 L332.2,54.7 L333.0,55.1 L333.8,55.4 L334.6,55.8 L335.4,56.2 L336.2,56.6 L337.0,57.0 L337.7,57.3 L338.5,57.7 L339.3,58.1 L340.1,58.6 L340.9,59.0 L341.7,59.4 L342.5,59.8 L343.4,60.3 L344.2,60.7 L345.1,61.2 L346.0,61.7 L346.9,62.2 L347.9,62.7 L348.9,63.2 L349.8,63.7 L350.8,64.3 L351.7,64.8 L352.7,65.3 L353.6,65.8 L354.5,66.3 L355.4,66.8 L356.2,67.2 L357.1,67.7 L357.9,68.1 L358.8,68.6 L359.6,69.0 L360.4,69.5 L361.3,69.9 L362.1,70.4 L363.0,70.8 L363.8,71.2 L364.7,71.7 L365.5,72.1 L366.4,72.5 L367.2,73.0 L368.1,73.4 L369.0,73.8 L369.9,74.2 L370.8,74.7 L371.7,75.1 L372.6,75.6 L373.6,76.0 L374.5,76.4 L375.5,76.9 L376.4,77.3 L377.4,77.8 L378.4,78.2 L379.4,78.6 L380.5,79.1 L381.5,79.5 L382.6,80.0 L383.7,80.5 L384.8,80.9 L385.9,81.4 L387.0,81.8 L388.1,82.3 L389.3,82.7 L390.4,83.2 L391.6,83.6 L392.8,84.0 L394.0,84.5 L395.2,84.9 L396.3,85.3 L397.5,85.7 L398.7,86.1 L399.9,86.5 L401.1,86.9 L402.3,87.3 L403.5,87.7 L404.7,88.1 L405.9,88.4 L407.1,88.8 L408.3,89.1 L409.4,89.4 L410.5,89.7 L411.6,90.0 L412.6,90.3 L413.6,90.5 L414.6,90.8 L415.5,91.0 L416.4,91.2 L417.3,91.4 L418.1,91.6 L419.0,91.8 L420.0,92.0 L420.9,92.2 L422.0,92.4 L423.0,92.6 L424.1,92.8 L425.3,93.0 L426.5,93.2 L427.6,93.4 L428.8,93.6 L430.1,93.8 L431.3,93.9 L432.5,94.1 L433.7,94.3 L434.9,94.4 L436.1,94.5 L437.2,94.6 L438.4,94.8 L439.6,94.9 L440.8,94.9 L442.0,95.0 L443.2,95.1 L444.3,95.1 L445.5,95.2 L446.7,95.2 L447.9,95.3 L449.1,95.3 L450.2,95.3 L451.4,95.3 L452.6,95.3 L453.8,95.3 L455.0,95.3 L456.2,95.2 L457.3,95.2 L458.5,95.2 L459.7,95.1 L460.9,95.1 L462.1,95.0 L463.3,94.9 L464.5,94.8 L465.7,94.8 L466.9,94.7 L468.1,94.6 L469.3,94.5 L470.4,94.3 L471.5,94.2 L472.6,94.1 L473.7,94.0 L474.7,93.9 L475.6,93.8 L476.5,93.7 L477.4,93.6 L478.3,93.5 L479.2,93.4 L480.2,93.2 L481.1,93.1 L482.2,93.0 L483.2,92.8 L484.3,92.7 L485.4,92.5 L486.5,92.3 L487.7,92.2 L488.9,92.0 L490.1,91.8 L491.3,91.6 L492.5,91.4 L493.7,91.2 L494.9,91.0 L496.2,90.8 L497.4,90.6 L498.6,90.4 L499.8,90.2 L501.0,90.0 L502.2,89.8 L503.4,89.6 L504.5,89.4 L505.7,89.2 L506.8,89.0 L508.0,88.8 L509.1,88.6 L510.3,88.4 L511.4,88.2 L512.6,88.0 L513.8,87.7 L515.0,87.5 L516.2,87.3 L517.4,87.1 L518.6,86.9 L519.8,86.7 L521.0,86.5 L522.1,86.3 L523.2,86.1 L524.3,86.0 L525.2,85.8 L526.2,85.6 L527.0,85.5 L527.8,85.4 L528.4,85.3 L529.0,85.2" stroke="#00ff00"/>
</g>
<rect x="58.1" y="12.0" width="470.9" height="353.0" stroke="#141414" stroke-width="1.5" fill="none"/>
<g font-size="15.3">
<text transform="translate(119.4,384.3) scale(1.03,1)" text-anchor="middle">400</text>
<text transform="translate(187.6,384.3) scale(1.03,1)" text-anchor="middle">500</text>
<text transform="translate(255.8,384.3) scale(1.03,1)" text-anchor="middle">600</text>
<text transform="translate(324.0,384.3) scale(1.03,1)" text-anchor="middle">700</text>
<text transform="translate(392.2,384.3) scale(1.03,1)" text-anchor="middle">800</text>
<text transform="translate(460.4,384.3) scale(1.03,1)" text-anchor="middle">900</text>
<text transform="translate(529.0,384.3) scale(1.03,1)" text-anchor="middle">1000</text>
<text transform="translate(49.6,362.1) scale(1.03,1)" text-anchor="end">0</text>
<text transform="translate(49.6,292.8) scale(1.03,1)" text-anchor="end">20</text>
<text transform="translate(49.6,223.6) scale(1.03,1)" text-anchor="end">40</text>
<text transform="translate(49.6,154.3) scale(1.03,1)" text-anchor="end">60</text>
<text transform="translate(49.6,85.1) scale(1.03,1)" text-anchor="end">80</text>
<text transform="translate(49.6,15.8) scale(1.03,1)" text-anchor="end">100</text>
</g>
<g font-size="14.6">
<line x1="294" y1="229.3" x2="336.3" y2="229.3" stroke="#00ffff" stroke-width="2.4"/>
<text transform="translate(339.2,234.7) scale(1.0,1)">Undoped ZnO</text>
<line x1="294" y1="249.9" x2="336.3" y2="249.9" stroke="#ff0000" stroke-width="2.4"/>
<text transform="translate(339.2,255.2) scale(1.0,1)">1 at% Gd-doped ZnO</text>
<line x1="294" y1="270.5" x2="336.3" y2="270.5" stroke="#0000ff" stroke-width="2.4"/>
<text transform="translate(339.2,275.8) scale(1.0,1)">3 at% Gd-doped ZnO</text>
<line x1="294" y1="291.2" x2="336.3" y2="291.2" stroke="#ff00ff" stroke-width="2.4"/>
<text transform="translate(339.2,296.4) scale(1.0,1)">5 at% Gd-doped ZnO</text>
<line x1="294" y1="311.8" x2="336.3" y2="311.8" stroke="#ff8000" stroke-width="2.4"/>
<text transform="translate(339.2,316.9) scale(1.0,1)">7 at% Gd-doped ZnO</text>
<line x1="294" y1="332.4" x2="336.3" y2="332.4" stroke="#00ff00" stroke-width="2.4"/>
<text transform="translate(339.2,337.4) scale(1.0,1)">3 at% (Al,Gd) co-doped ZnO</text>
</g>
<text font-size="16.2" transform="translate(293.4,406.4) scale(1.0,1)" text-anchor="middle">Wavelength (nm)</text>
<text font-size="15.55" transform="translate(17.7,199.3) rotate(-90)" text-anchor="middle">Transmittance (%)</text>
</svg>
</body></html>
